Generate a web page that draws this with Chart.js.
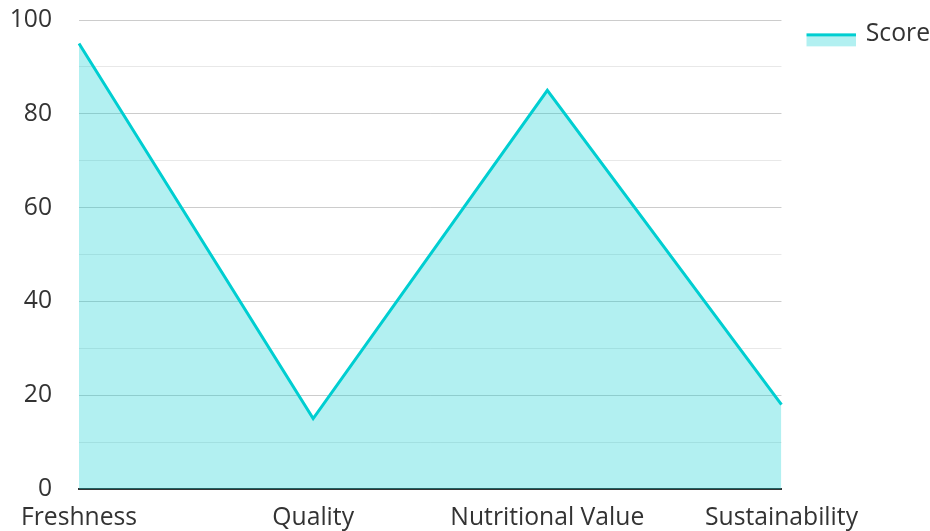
<!DOCTYPE html>
<html>
<head>
<meta charset="utf-8">
<script src="https://cdn.jsdelivr.net/npm/chart.js@4/dist/chart.umd.min.js"></script>
<style>
html,body{margin:0;padding:0;background:#fff;}
#wrap{width:930px;height:531px;position:relative;}
</style>
</head>
<body>
<div id="wrap"><canvas id="c"></canvas></div>
<script>
const categories = ["Freshness", "Quality", "Nutritional Value", "Sustainability"];
const seriesName = "Score";
const scores = [95, 15, 85, 18];
const yTicks = [0, 20, 40, 60, 80, 100];

const lineColor = "#00CED1";
const fillColor = "rgba(0,206,209,0.3)";
const fontSize = 24.7;

// legend swatch: top line + fill (with transparent margins for placement)
const sw = document.createElement("canvas");
sw.width = 76; sw.height = 26;
const sctx = sw.getContext("2d");
sctx.fillStyle = fillColor;
sctx.fillRect(26, 12, 50, 13);
sctx.fillStyle = lineColor;
sctx.fillRect(26, 12, 50, 3);

Chart.defaults.font.family = "'Open Sans', 'Noto Sans', sans-serif";
Chart.defaults.color = "#333";

new Chart(document.getElementById("c"), {
  type: "line",
  data: {
    labels: categories,
    datasets: [{
      label: seriesName,
      data: scores,
      borderColor: lineColor,
      backgroundColor: fillColor,
      borderWidth: 3,
      fill: "origin",
      tension: 0,
      pointRadius: 0,
      pointHoverRadius: 0,
      pointStyle: sw
    }]
  },
  options: {
    responsive: true,
    maintainAspectRatio: false,
    animation: false,
    layout: { padding: { top: 20, right: -10, left: 10, bottom: 0 } },
    plugins: {
      tooltip: { enabled: false },
      legend: {
        position: "right",
        align: "start",
        labels: {
          usePointStyle: true,
          pointStyleWidth: 70,
          boxHeight: 14,
          font: { size: fontSize },
          color: "#333",
          padding: 2
        }
      }
    },
    scales: {
      x: {
        offset: false,
        grid: { display: false, drawTicks: false },
        border: { display: true, color: "#333", width: 2 },
        ticks: { font: { size: fontSize }, color: "#333", padding: 14, maxRotation: 0, autoSkip: false },
        afterFit: (s) => { s.paddingLeft = 0; s.paddingRight = 0; s.height = 42; }
      },
      y: {
        min: 0, max: 100,
        ticks: {
          stepSize: 10,
          font: { size: fontSize },
          color: "#333",
          padding: 27,
          callback: (v) => yTicks.includes(v) ? String(v) : ""
        },
        grid: {
          drawTicks: false,
          color: (ctx) => (ctx.tick && yTicks.includes(ctx.tick.value)) ? "rgba(0,0,0,0.2)" : "rgba(0,0,0,0.09)",
          lineWidth: 1
        },
        border: { display: false },
        afterFit: (s) => { s.paddingTop = 2; s.paddingBottom = 0; s.width = 69; }
      }
    }
  }
});
</script>
</body>
</html>
